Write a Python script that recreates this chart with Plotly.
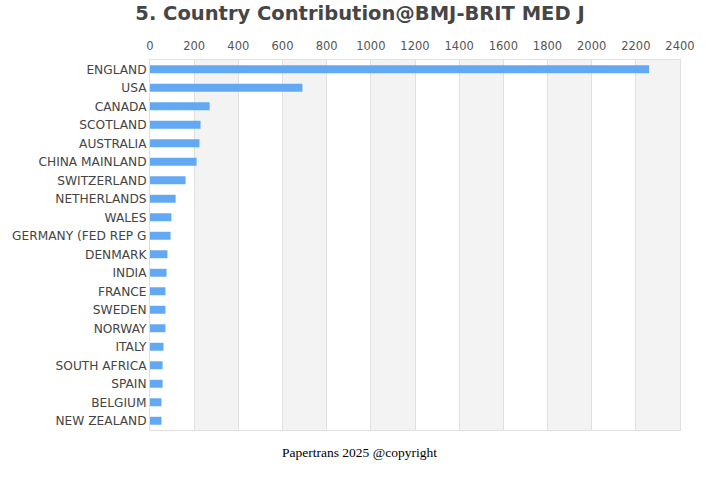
import plotly.graph_objects as go

countries = ["ENGLAND", "USA", "CANADA", "SCOTLAND", "AUSTRALIA", "CHINA MAINLAND",
             "SWITZERLAND", "NETHERLANDS", "WALES", "GERMANY (FED REP G", "DENMARK",
             "INDIA", "FRANCE", "SWEDEN", "NORWAY", "ITALY", "SOUTH AFRICA", "SPAIN",
             "BELGIUM", "NEW ZEALAND"]
counts = [2260, 690, 270, 229, 224, 211, 161, 116, 97, 93, 79, 75, 70, 70, 70, 61, 57, 57, 52, 52]
x_ticks = list(range(0, 2401, 200))

fig = go.Figure(go.Bar(
    x=counts, y=countries, orientation="h",
    marker=dict(color="#62a8f3", line=dict(width=0)),
    width=0.43,
))

shapes = []
for i in range(len(x_ticks) - 1):
    if i % 2 == 1:
        shapes.append(dict(type="rect", xref="x", yref="paper",
                           x0=x_ticks[i], x1=x_ticks[i + 1], y0=0, y1=1,
                           fillcolor="#f3f3f3", line=dict(width=0), layer="below"))

fig.update_layout(
    width=720, height=480,
    margin=dict(l=150, r=40, t=60, b=50),
    paper_bgcolor="white", plot_bgcolor="white",
    title=dict(text="<b>5. Country Contribution@BMJ-BRIT MED J</b>",
               x=0.5, xanchor="center", y=0.972, yanchor="middle",
               font=dict(family="DejaVu Sans", size=19.5, color="#464646")),
    shapes=shapes,
    showlegend=False,
    annotations=[dict(text="Papertrans 2025 @copyright", xref="paper", yref="paper",
                      x=(359.5 - 150) / 530, y=-0.06, xanchor="center", yanchor="middle",
                      showarrow=False,
                      font=dict(family="Liberation Serif", size=13.5, color="#000"))],
)
fig.update_xaxes(side="top", range=[0, 2400], tickvals=x_ticks,
                 showgrid=True, gridcolor="#e0e0e0", gridwidth=1,
                 zeroline=False, showline=True, linecolor="#e0e0e0", mirror=True,
                 ticks="", ticklen=0, ticklabelstandoff=4,
                 tickfont=dict(family="DejaVu Sans", size=11.5, color="#555"))
fig.update_yaxes(autorange="reversed", showgrid=False, zeroline=False,
                 showline=True, linecolor="#e0e0e0", mirror=True, ticks="",
                 tickfont=dict(family="DejaVu Sans", size=12.2, color="#444"))

fig.write_html("out.html")
